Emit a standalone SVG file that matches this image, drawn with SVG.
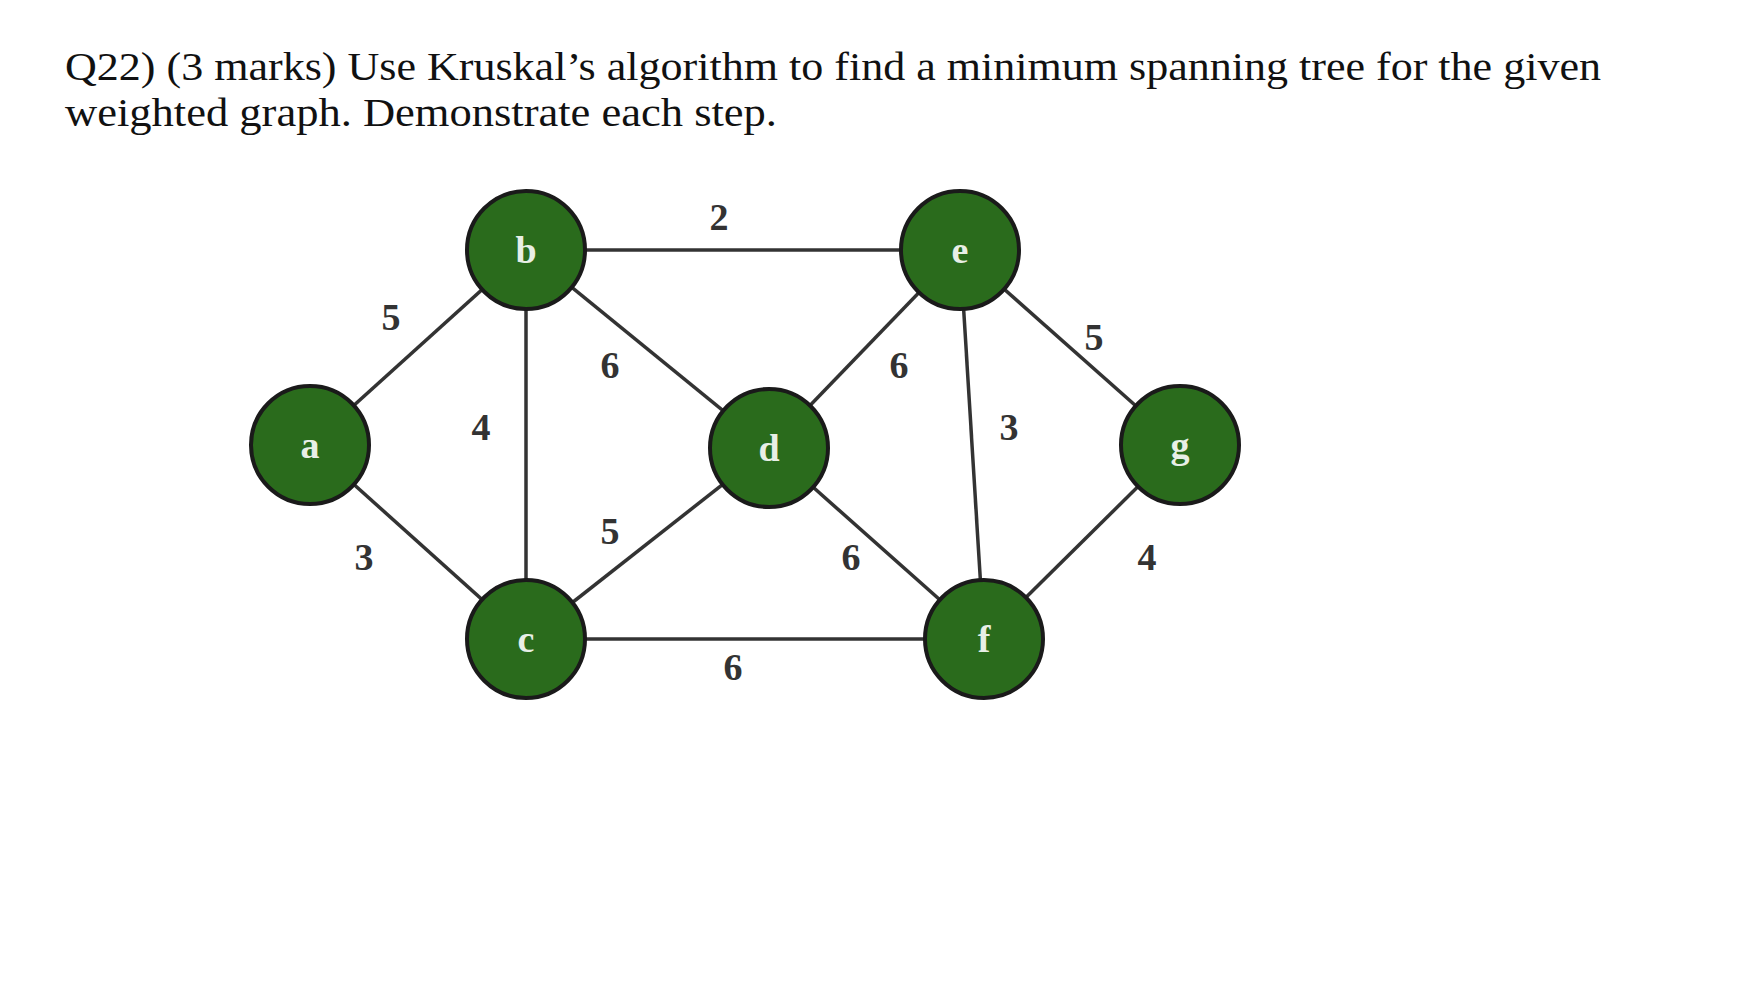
<svg xmlns="http://www.w3.org/2000/svg" width="1758" height="994" viewBox="0 0 1758 994">
<style>
.t{font-family:"Liberation Serif",serif;font-size:41px;fill:#111}
.w{font-family:"Liberation Serif",serif;font-weight:bold;font-size:38px;fill:#333;text-anchor:middle}
.n circle{fill:#2a6b1c;stroke:#1a1a1a;stroke-width:4}
.n text{font-family:"Liberation Serif",serif;font-weight:bold;font-size:38px;fill:#e8efe6;text-anchor:middle}
.e line{stroke:#333;stroke-width:3.5}
</style>
<rect width="1758" height="994" fill="#fff"/>
<text class="t" x="65" x2="0" y="80" textLength="1536" lengthAdjust="spacingAndGlyphs">Q22) (3 marks) Use Kruskal’s algorithm to find a minimum spanning tree for the given</text>
<text class="t" x="65" y="126" textLength="712" lengthAdjust="spacingAndGlyphs">weighted graph. Demonstrate each step.</text>
<g class="e" id="connectors">
<line x1="310" y1="445" x2="526" y2="250"/>
<line x1="310" y1="445" x2="526" y2="639"/>
<line x1="526" y1="250" x2="526" y2="639"/>
<line x1="526" y1="250" x2="960" y2="250"/>
<line x1="526" y1="250" x2="769" y2="448"/>
<line x1="526" y1="639" x2="769" y2="448"/>
<line x1="526" y1="639" x2="984" y2="639"/>
<line x1="769" y1="448" x2="960" y2="250"/>
<line x1="769" y1="448" x2="984" y2="639"/>
<line x1="960" y1="250" x2="984" y2="639"/>
<line x1="960" y1="250" x2="1180" y2="445"/>
<line x1="984" y1="639" x2="1180" y2="445"/>
</g>
<g id="labels">
<text class="w" x="391" y="330">5</text>
<text class="w" x="481" y="440">4</text>
<text class="w" x="364" y="570">3</text>
<text class="w" x="610" y="378">6</text>
<text class="w" x="610" y="544">5</text>
<text class="w" x="719" y="230">2</text>
<text class="w" x="899" y="378">6</text>
<text class="w" x="1009" y="440">3</text>
<text class="w" x="1094" y="350">5</text>
<text class="w" x="851" y="570">6</text>
<text class="w" x="1147" y="570">4</text>
<text class="w" x="733" y="680">6</text>
</g>
<g class="n" id="node-a"><circle cx="310" cy="445" r="59"/><text x="310" y="458">a</text></g>
<g class="n" id="node-b"><circle cx="526" cy="250" r="59"/><text x="526" y="263">b</text></g>
<g class="n" id="node-c"><circle cx="526" cy="639" r="59"/><text x="526" y="652">c</text></g>
<g class="n" id="node-d"><circle cx="769" cy="448" r="59"/><text x="769" y="461">d</text></g>
<g class="n" id="node-e"><circle cx="960" cy="250" r="59"/><text x="960" y="263">e</text></g>
<g class="n" id="node-f"><circle cx="984" cy="639" r="59"/><text x="984" y="652">f</text></g>
<g class="n" id="node-g"><circle cx="1180" cy="445" r="59"/><text x="1180" y="458">g</text></g>
</svg>
